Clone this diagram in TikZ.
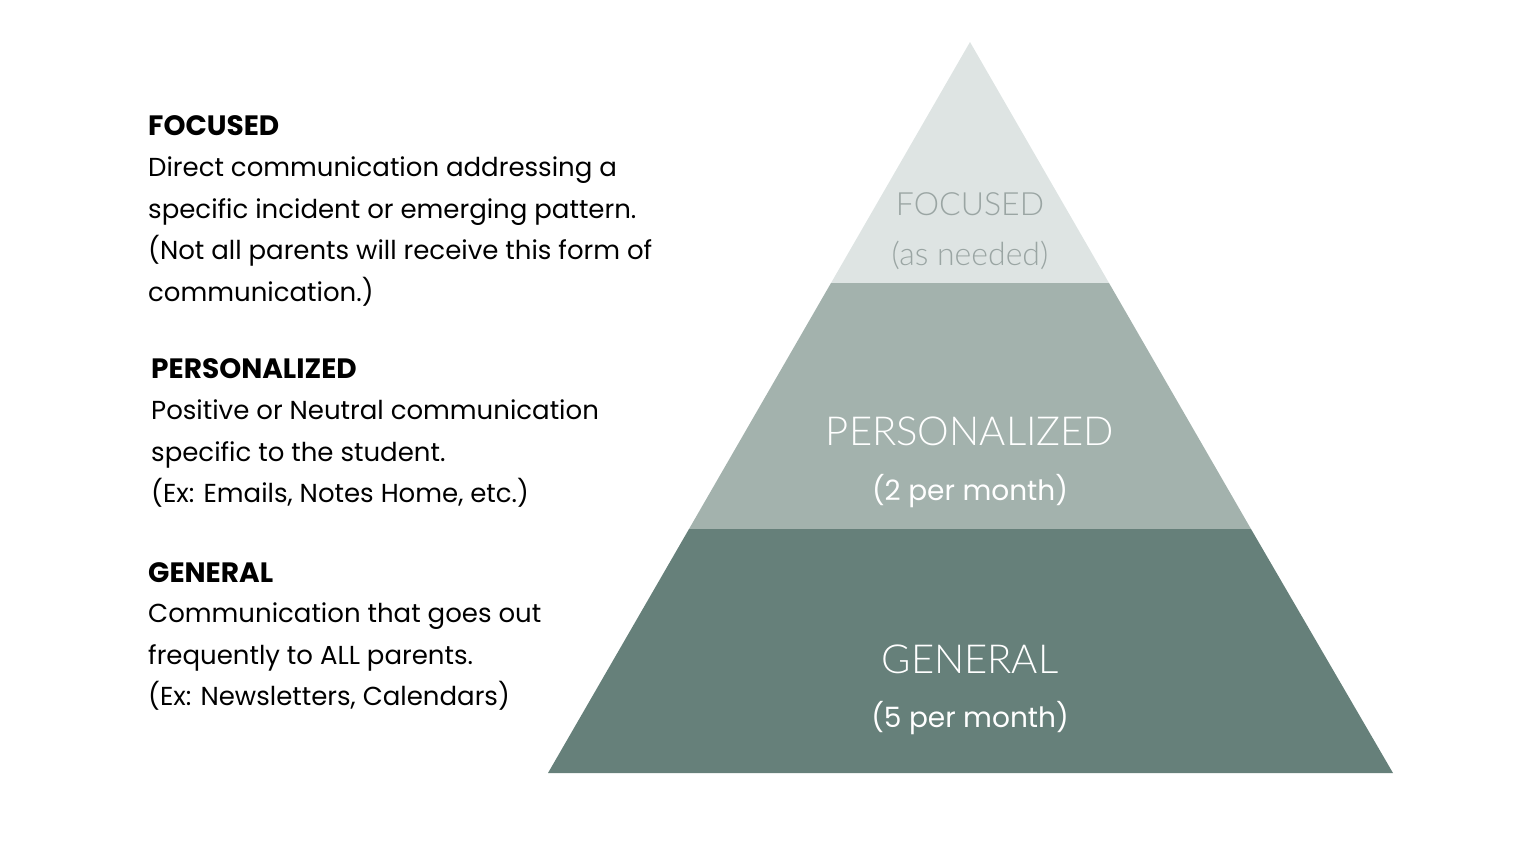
\documentclass[tikz,border=0pt]{standalone}
\usepackage{fontspec}
\setmainfont{Poppins}
\newfontfamily\lightf{Lato Light}
\definecolor{topc}{HTML}{DEE4E3}
\definecolor{midc}{HTML}{A3B2AD}
\definecolor{botc}{HTML}{66807A}
\definecolor{toptext}{HTML}{9AA5A3}
\begin{document}
\begin{tikzpicture}[x=1pt,y=-1pt,
  body/.style={anchor=north west,align=left,inner sep=0pt,font=\fontsize{26}{41.5}\selectfont},
  head/.style={anchor=north west,inner sep=0pt,font=\fontsize{28}{34}\selectfont\bfseries},
  tier/.style={align=center,font=\fontsize{36}{50}\selectfont\lightf}]
\useasboundingbox (0,0) rectangle (1529,854);
\fill[topc] (970,42) -- (1109,283) -- (831,283) -- cycle;
\fill[midc] (831,283) -- (1109,283) -- (1251,529) -- (689,529) -- cycle;
\fill[botc] (689,529) -- (1251,529) -- (1393,773) -- (548,773) -- cycle;
\node[tier,text=toptext,font=\fontsize{32}{50}\selectfont\lightf] (t1) at (970,231) {FOCUSED\\(as needed)};
\node[tier,text=white,font=\fontsize{40}{60}\selectfont\lightf] (t2a) at (970,431) {PERSONALIZED};
\node[tier,text=white,font=\fontsize{28}{34}\selectfont] (t2b) at (970,491) {(2 per month)};
\node[tier,text=white,font=\fontsize{40}{60}\selectfont\lightf] (t3a) at (970,659) {GENERAL};
\node[tier,text=white,font=\fontsize{28}{34}\selectfont] (t3b) at (970,718) {(5 per month)};
\node[head] (h1) at (148,115) {FOCUSED};
\node[body] (b1) at (148,157) {Direct communication addressing a\\specific incident or emerging pattern.\\(Not all parents will receive this form of\\communication.)};
\node[head] (h2) at (151,358) {PERSONALIZED};
\node[body] (b2) at (151,400) {Positive or Neutral communication\\specific to the student.\\(Ex: Emails, Notes Home, etc.)};
\node[head] (h3) at (148,562) {GENERAL};
\node[body] (b3) at (148,603) {Communication that goes out\\frequently to ALL parents.\\(Ex: Newsletters, Calendars)};
\end{tikzpicture}
\end{document}
